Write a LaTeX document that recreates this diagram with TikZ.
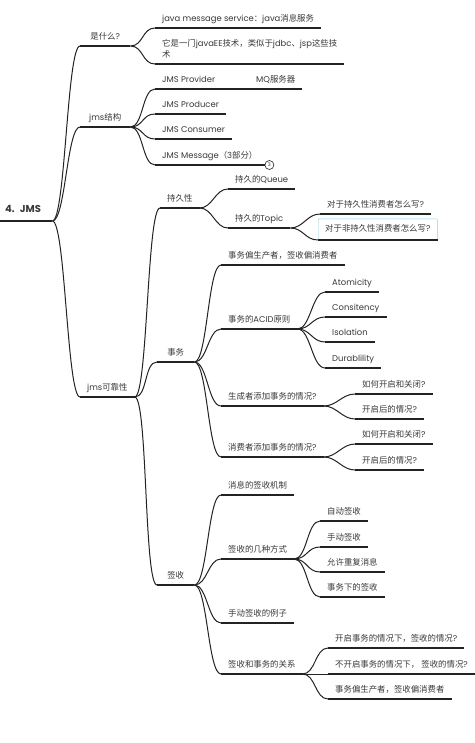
\documentclass[tikz,border=0pt]{standalone}
\usepackage{fontspec}
\setmainfont{Poppins}
\newfontfamily\latinfont{Poppins}
\newfontfamily\cjkfont{Noto Sans CJK SC}
\usepackage{xcolor}
\usepackage{tikz}
\definecolor{selblue}{RGB}{150,205,235}
\definecolor{ink}{RGB}{35,35,35}
\XeTeXinterchartokenstate=1
\newXeTeXintercharclass\zhclass
\newcount\zhchar
\zhchar="3000
\loop\XeTeXcharclass\zhchar=\zhclass \ifnum\zhchar<"303F \advance\zhchar by 1 \repeat
\zhchar="4E00
\loop\XeTeXcharclass\zhchar=\zhclass \ifnum\zhchar<"9FFF \advance\zhchar by 1 \repeat
\zhchar="FF00
\loop\XeTeXcharclass\zhchar=\zhclass \ifnum\zhchar<"FFEF \advance\zhchar by 1 \repeat
\XeTeXinterchartoks 0 \zhclass={\cjkfont}
\XeTeXinterchartoks 4095 \zhclass={\cjkfont}
\XeTeXinterchartoks \zhclass 0={\latinfont}
\XeTeXinterchartoks \zhclass 4095={\latinfont}

\begin{document}
\begin{tikzpicture}[x=1pt,y=-1pt,
  every node/.style={font=\fontsize{8.4}{11}\selectfont,text=ink!90},
  topic/.style={anchor=south west,inner xsep=7pt,inner ysep=4pt,text depth=2pt},
  main/.style={topic,minimum width=50pt},
  part/.style={topic,minimum width=37pt},
  root/.style={topic,font=\fontsize{10}{12}\selectfont\bfseries,text width=42pt,
               inner xsep=5pt,inner ysep=6pt},
  picked/.style={topic,draw=selblue,rounded corners=1pt,minimum height=21pt},
  badge/.style={circle,draw=ink,line width=0.6pt,inner sep=0pt,minimum size=9pt,
                anchor=west,font=\fontsize{5}{5}\selectfont},
  uline/.style={ink,line width=1.1pt},
  link/.style={ink,line width=1pt}]
  \path[use as bounding box,fill=white] (0,0) rectangle (474,743);

  \node[root] (jms) at (0,221) {4. JMS};
  \node[main] (what)   at (80,46)  {是什么?};
  \node[main] (struct) at (80,127) {jms结构};
  \node[main] (rel)    at (80,397) {jms可靠性};

  \node[topic] (def) at (155,28) {java message service：java消息服务};
  \node[topic,align=left] (tech) at (155,64) {它是一门javaEE技术，类似于jdbc、jsp这些技\\术};

  \node[topic] (prov) at (155,89)  {JMS Provider\hspace{41pt}MQ服务器};
  \node[topic] (prod) at (155,114) {JMS Producer};
  \node[topic] (cons) at (155,139) {JMS Consumer};
  \node[topic] (msg)  at (155,165) {JMS Message（3部分）};
  \node[badge] (msgnum) at (msg.south east) {3};

  \node[part] (dur) at (160,208) {持久性};
  \node[part] (tx)  at (157,362) {事务};
  \node[part] (ack) at (157,585) {签收};

  \node[topic]  (queue)  at (228,189) {持久的Queue};
  \node[topic]  (topic)  at (228,228) {持久的Topic};
  \node[topic]  (dursub) at (320,214) {对于持久性消费者怎么写?};
  \node[picked] (nodur)  at (318,240) {对于非持久性消费者怎么写?};

  \node[topic] (txside) at (221,265) {事务偏生产者，签收偏消费者};
  \node[topic] (acid)   at (221,329) {事务的ACID原则};
  \node[topic] (atom)   at (325,292) {Atomicity};
  \node[topic] (consis) at (325,317) {Consitency};
  \node[topic] (iso)    at (325,342) {Isolation};
  \node[topic] (durab)  at (325,368) {Durablility};
  \node[topic] (prodtx)    at (221,406) {生成者添加事务的情况?};
  \node[topic] (prodhow)   at (355,394) {如何开启和关闭?};
  \node[topic] (prodafter) at (355,419) {开启后的情况?};
  \node[topic] (constx)    at (221,457) {消费者添加事务的情况?};
  \node[topic] (conshow)   at (355,444) {如何开启和关闭?};
  \node[topic] (consafter) at (355,470) {开启后的情况?};

  \node[topic] (ackmech)  at (221,495) {消息的签收机制};
  \node[topic] (ackmodes) at (221,559) {签收的几种方式};
  \node[topic] (auto)     at (320,521) {自动签收};
  \node[topic] (manual)   at (320,547) {手动签收};
  \node[topic] (redeliv)  at (320,572) {允许重复消息};
  \node[topic] (txack)    at (320,597) {事务下的签收};
  \node[topic] (ackdemo)  at (221,623) {手动签收的例子};
  \node[topic] (acktx)    at (221,674) {签收和事务的关系};
  \node[topic] (withtx)   at (328,648) {开启事务的情况下，签收的情况?};
  \node[topic] (notx)     at (328,674) {不开启事务的情况下， 签收的情况?};
  \node[topic] (sideagain) at (328,699) {事务偏生产者，签收偏消费者};

  \foreach \n in {jms,what,struct,rel,def,tech,prov,prod,cons,msg,dur,tx,ack,
                  queue,topic,dursub,nodur,txside,acid,atom,consis,iso,durab,
                  prodtx,prodhow,prodafter,constx,conshow,consafter,ackmech,ackmodes,
                  auto,manual,redeliv,txack,ackdemo,acktx,withtx,notx,sideagain}
    \draw[uline] (\n.south west) -- (\n.south east);

  \foreach \a/\b in {jms/what,jms/struct,jms/rel,what/def,what/tech,
                     struct/prov,struct/prod,struct/cons,struct/msg,
                     rel/dur,rel/tx,rel/ack,dur/queue,dur/topic,topic/dursub,topic/nodur,
                     tx/txside,tx/acid,tx/prodtx,tx/constx,acid/atom,acid/consis,acid/iso,acid/durab,
                     prodtx/prodhow,prodtx/prodafter,constx/conshow,constx/consafter,
                     ack/ackmech,ack/ackmodes,ack/ackdemo,ack/acktx,
                     ackmodes/auto,ackmodes/manual,ackmodes/redeliv,ackmodes/txack,
                     acktx/withtx,acktx/notx,acktx/sideagain}
    \draw[link] (\a.south east) .. controls +(13,0) and +(-13,0) .. (\b.south west);
\end{tikzpicture}
\end{document}
